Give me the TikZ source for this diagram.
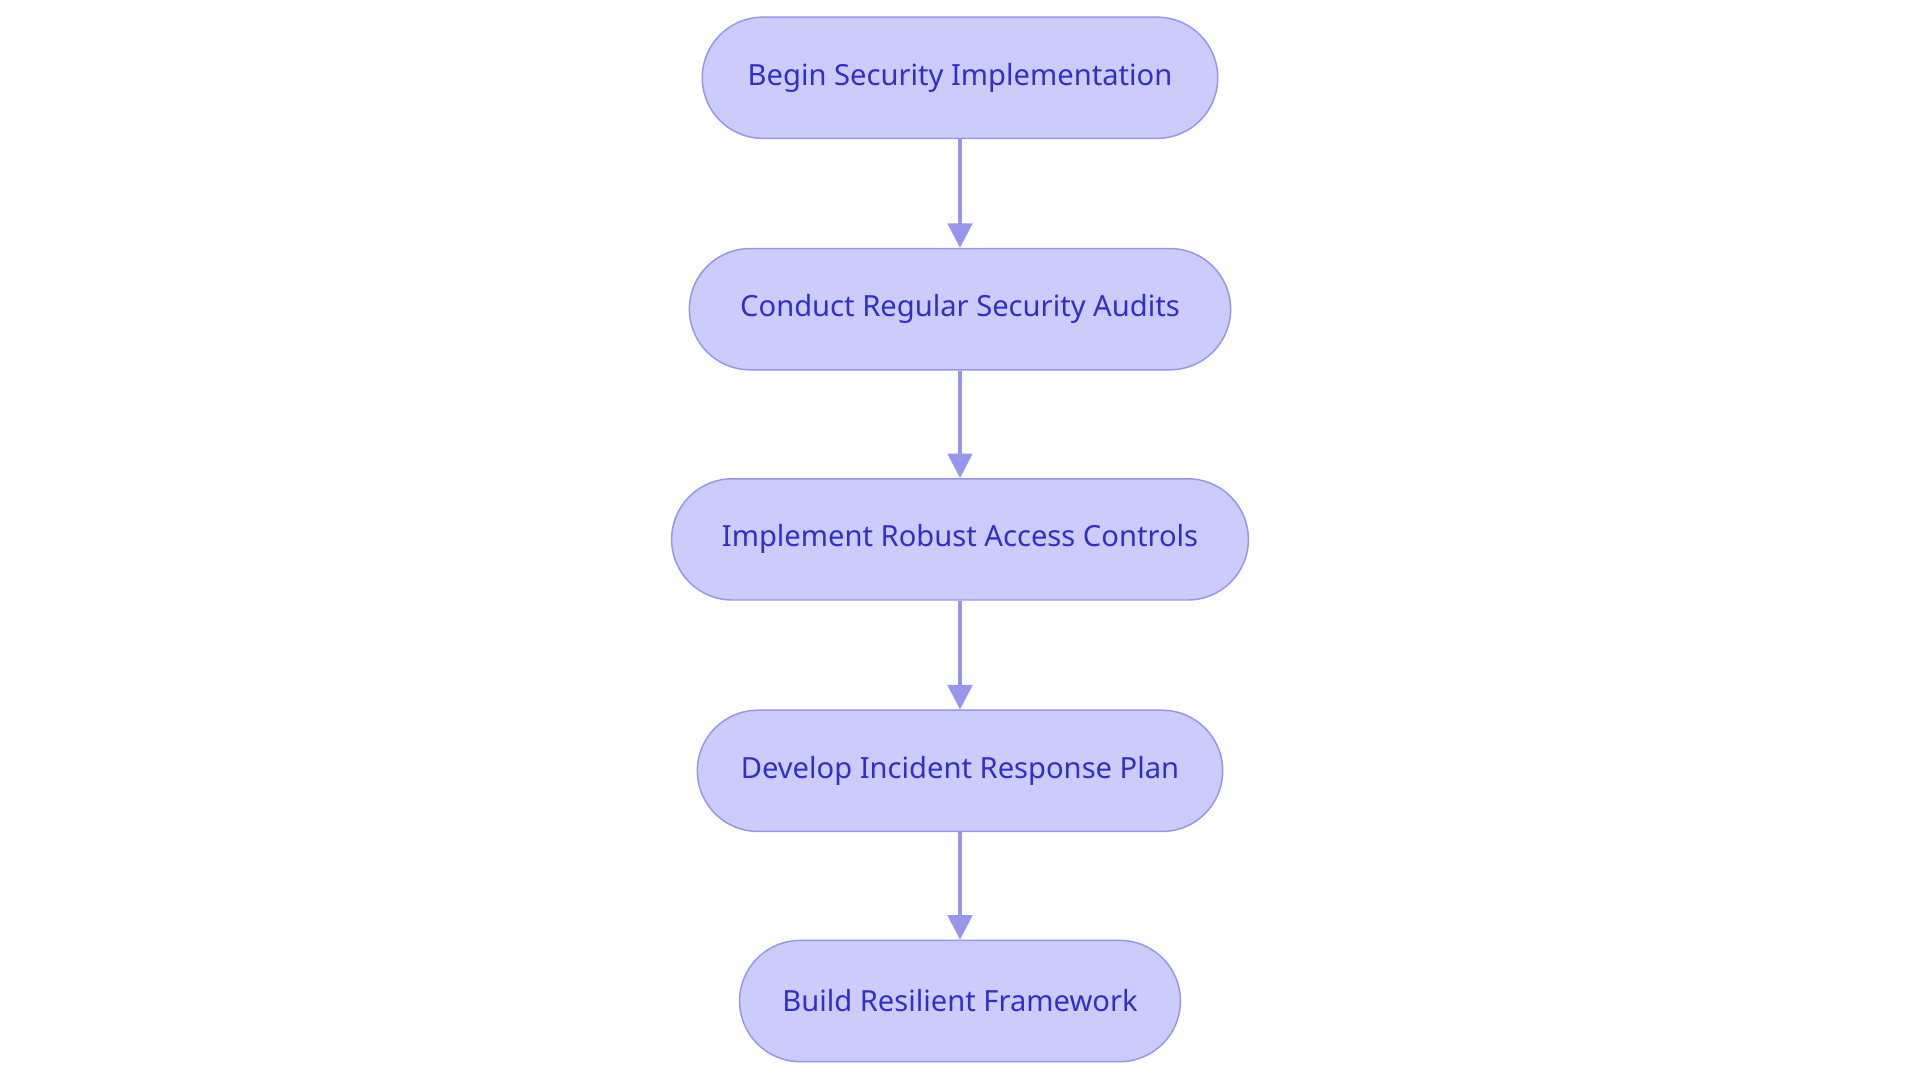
\documentclass[tikz,border=0pt]{standalone}
\usepackage{fontspec}
\setmainfont{Noto Sans}
\usetikzlibrary{arrows.meta}
\definecolor{nfill}{HTML}{CBCBFC}
\definecolor{nline}{HTML}{9696EC}
\definecolor{ntext}{HTML}{3030C8}
\begin{document}
\begin{tikzpicture}[x=0.5pt,y=-0.5pt,
  box/.style={draw=nline,line width=0.6pt,fill=nfill,rounded corners=24.75pt,minimum height=49.5pt,inner sep=0pt,text=ntext,font=\fontsize{11.9}{14}\selectfont},
  arr/.style={draw=nline,line width=1.4pt,-{Triangle[length=10pt,width=10pt]}}]
\useasboundingbox (0,0) rectangle (1568,884);
\node[box,minimum width=210.5pt] (a) at (784,63.5) {Begin Security Implementation};
\node[box,minimum width=221pt] (b) at (784,252.5) {Conduct Regular Security Audits};
\node[box,minimum width=235.5pt] (c) at (784,440.5) {Implement Robust Access Controls};
\node[box,minimum width=214.5pt] (d) at (784,629.5) {Develop Incident Response Plan};
\node[box,minimum width=180pt] (e) at (784,817.5) {Build Resilient Framework};
\draw[arr] (a) -- (b);
\draw[arr] (b) -- (c);
\draw[arr] (c) -- (d);
\draw[arr] (d) -- (e);
\end{tikzpicture}
\end{document}
